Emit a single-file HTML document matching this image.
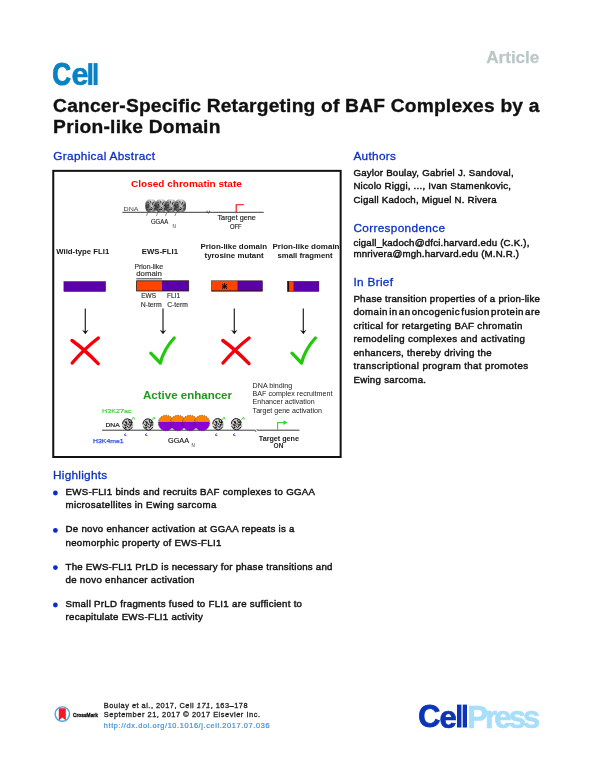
<!DOCTYPE html>
<html><head><meta charset="utf-8"><title>Cell Article</title>
<style>
html,body{margin:0;padding:0;background:#fff;width:600px;height:779px;overflow:hidden}
svg{display:block;will-change:transform}
text{font-family:"Liberation Sans",sans-serif}
.b{font-weight:bold}
.hd{font-size:11.8px;fill:#0b30c2;stroke:#0b30c2;stroke-width:0.3px}
.tx{font-size:9.7px;fill:#111;stroke:#111;stroke-width:0.42px}
.ft{font-size:7.4px;fill:#1e1e1e;stroke:#1e1e1e;stroke-width:0.3px}
</style></head>
<body>
<svg width="600" height="779" viewBox="0 0 600 779">
<!-- header -->
<text x="486.2" y="63.2" class="b" font-size="17.2" fill="#bac7c7" stroke="#bac7c7" stroke-width="0.25" textLength="53.2" lengthAdjust="spacing">Article</text>
<g fill="#0882c4">
<text transform="translate(52.3 85.1) scale(0.84 1)" class="b" font-size="31" stroke="#0882c4" stroke-width="1">C</text>
<text x="71.6" y="85.1" class="b" font-size="30.5" stroke="#0882c4" stroke-width="0.5">e</text>
<rect x="88.2" y="63.1" width="4.1" height="22"/><rect x="93.6" y="63.1" width="4" height="22"/>
</g>
<text x="53.1" y="112.3" class="b" font-size="19.2" fill="#111" stroke="#111" stroke-width="0.35" textLength="486.3" lengthAdjust="spacing">Cancer-Specific Retargeting of BAF Complexes by a</text>
<text x="53.1" y="132.6" class="b" font-size="19.2" fill="#111" stroke="#111" stroke-width="0.35" textLength="167.3" lengthAdjust="spacing">Prion-like Domain</text>

<!-- section headers -->
<text x="53.3" y="160" class="hd" textLength="101.7" lengthAdjust="spacing">Graphical Abstract</text>
<text x="353.4" y="160" class="hd" textLength="42.6" lengthAdjust="spacing">Authors</text>
<text x="353.4" y="231.7" class="hd" textLength="91.6" lengthAdjust="spacing">Correspondence</text>
<text x="353.4" y="285.6" class="hd" textLength="39.6" lengthAdjust="spacing">In Brief</text>
<text x="53" y="478.9" class="hd" textLength="54.2" lengthAdjust="spacing">Highlights</text>

<!-- authors -->
<text x="353.4" y="175.8" class="tx" textLength="160.2">Gaylor Boulay, Gabriel J. Sandoval,</text>
<text x="353.4" y="189.3" class="tx" textLength="157.6">Nicolo Riggi, ..., Ivan Stamenkovic,</text>
<text x="353.4" y="202.9" class="tx" textLength="143.2">Cigall Kadoch, Miguel N. Rivera</text>
<!-- correspondence -->
<text x="353.4" y="245.9" class="tx" textLength="176">cigall_kadoch@dfci.harvard.edu (C.K.),</text>
<text x="353.4" y="257.3" class="tx" textLength="165.6">mnrivera@mgh.harvard.edu (M.N.R.)</text>
<!-- in brief -->
<text x="353.4" y="301.5" class="tx" textLength="186.6">Phase transition properties of a prion-like</text>
<text x="353.4" y="315.0" class="tx" textLength="186.6" word-spacing="-1.9">domain in an oncogenic fusion protein are</text>
<text x="353.4" y="328.5" class="tx" textLength="169">critical for retargeting BAF chromatin</text>
<text x="353.4" y="342.0" class="tx" textLength="171.6">remodeling complexes and activating</text>
<text x="353.4" y="355.5" class="tx" textLength="138.2">enhancers, thereby driving the</text>
<text x="353.4" y="369.0" class="tx" textLength="174.6">transcriptional program that promotes</text>
<text x="353.4" y="382.5" class="tx" textLength="72.6">Ewing sarcoma.</text>

<!-- highlights -->
<g fill="#0c2cc4"><circle cx="55.4" cy="493" r="2.4"/><circle cx="55.4" cy="530.4" r="2.4"/><circle cx="55.4" cy="567.6" r="2.4"/><circle cx="55.4" cy="605" r="2.4"/></g>
<text x="65.5" y="495.0" class="tx" textLength="249.5">EWS-FLI1 binds and recruits BAF complexes to GGAA</text>
<text x="65.5" y="508.3" class="tx" textLength="150.8">microsatellites in Ewing sarcoma</text>
<text x="65.5" y="532.4" class="tx" textLength="229">De novo enhancer activation at GGAA repeats is a</text>
<text x="65.5" y="545.7" class="tx" textLength="155.8">neomorphic property of EWS-FLI1</text>
<text x="65.5" y="569.6" class="tx" textLength="267">The EWS-FLI1 PrLD is necessary for phase transitions and</text>
<text x="65.5" y="582.9" class="tx" textLength="129">de novo enhancer activation</text>
<text x="65.5" y="606.9" class="tx" textLength="236.5">Small PrLD fragments fused to FLI1 are sufficient to</text>
<text x="65.5" y="620.2" class="tx" textLength="137.3">recapitulate EWS-FLI1 activity</text>

<!-- footer -->
<text x="103.8" y="707.9" class="ft" textLength="143.7">Boulay et al., 2017, Cell <tspan font-style="italic">171</tspan>, 163–178</text>
<text x="103.8" y="716.9" class="ft" textLength="156.2">September 21, 2017 © 2017 Elsevier Inc.</text>
<text x="103.8" y="727.6" class="ft" style="fill:#3b92d8;stroke:#3b92d8;stroke-width:0.2px" textLength="165.7">http://dx.doi.org/10.1016/j.cell.2017.07.036</text>

<!-- CrossMark -->
<g>
<circle cx="62.3" cy="714.1" r="7.2" fill="#fff" stroke="#4aa6df" stroke-width="1.4"/>
<path d="M58.8 709.2 q0 -1 1 -1 h5 q1 0 1 1 V720.4 L62.3 717.6 L58.8 720.4 Z" fill="#ee1c25"/>
<text x="72.9" y="716.7" class="b" font-size="5.8" fill="#111" stroke="#111" stroke-width="0.35" textLength="25" lengthAdjust="spacingAndGlyphs">CrossMark</text>
</g>

<!-- CellPress -->
<g fill="#0b35b6" stroke="#0b35b6">
<text x="418.2" y="727.5" class="b" font-size="31.5" stroke-width="0.9" transform="translate(418.2 0) scale(0.97 1) translate(-418.2 0)">C</text>
<text x="439.6" y="727.5" class="b" font-size="31" stroke-width="0.7">e</text>
<rect x="457" y="704.6" width="4.4" height="22.9" stroke="none"/><rect x="462.7" y="704.6" width="4.3" height="22.9" stroke="none"/>
</g>
<text x="467.3" y="727.5" class="b" font-size="31" fill="#a8defa" stroke="#a8defa" stroke-width="0.7" textLength="73" lengthAdjust="spacing">Press</text>

<!-- FIGURE -->
<defs>
<linearGradient id="ng" x1="0" y1="0" x2="1" y2="0">
<stop offset="0" stop-color="#1e1e1e"/><stop offset="0.3" stop-color="#707070"/><stop offset="0.55" stop-color="#c8c8c8"/><stop offset="0.8" stop-color="#808080"/><stop offset="1" stop-color="#1e1e1e"/>
</linearGradient>
<linearGradient id="ng2" x1="0" y1="0" x2="0" y2="1">
<stop offset="0" stop-color="#fff" stop-opacity="0.5"/><stop offset="0.5" stop-color="#fff" stop-opacity="0"/><stop offset="1" stop-color="#000" stop-opacity="0.35"/>
</linearGradient>
<g id="nuc">
<rect x="-5.6" y="-6.3" width="11.2" height="12.6" rx="4.5" fill="url(#ng)"/>
<rect x="-5.6" y="-6.3" width="11.2" height="12.6" rx="4.5" fill="url(#ng2)"/>
<path d="M-3.5 -4 l1.5 1.5 M-0.5 -5 l0.5 2.5 M2.5 -4 l-1 2 M-4 1.5 l2.5 -0.5 M0 1 l1.5 2 M3 0.5 l1 -2 M-2 4 l2 -1" stroke="#1a1a1a" stroke-width="0.8" fill="none"/>
<circle cx="-2.5" cy="-1" r="0.7" fill="#111"/><circle cx="1.5" cy="-1.8" r="0.6" fill="#111"/><circle cx="0.3" cy="3.5" r="0.7" fill="#111"/><circle cx="3.6" cy="3" r="0.6" fill="#111"/>
</g>
<g id="nuc2">
<ellipse cx="0" cy="0" rx="5.8" ry="6" fill="#c8c8c8"/>
<path d="M-5.2 -0.5 q0.5 -5 5 -5.3 q4 0.2 5 4.3 M-4.8 2 q2 3.5 5 3.7 q3 -0.5 4.5 -3.2 M-3 -3.5 l2 2.2 l-1.4 3 M1 -4.5 l1 3 l2.2 -1 M-1 1 l2 2.2 l2.2 -2 M-3.8 -0.5 l1.5 2 M3.2 -3 l1 4" stroke="#1a1a1a" stroke-width="1" fill="none"/>
<circle cx="-1.5" cy="-2" r="1" fill="#111"/><circle cx="2.5" cy="0.5" r="0.9" fill="#111"/><circle cx="-2" cy="3" r="0.9" fill="#111"/><circle cx="0.5" cy="-0.3" r="0.7" fill="#111"/>
</g>
<marker id="ah" markerWidth="7" markerHeight="5" refX="3.2" refY="4" orient="0" markerUnits="userSpaceOnUse">
<path d="M0 0.5 L3.2 4 L6.4 0.5 L3.2 2.3 Z" fill="#111"/>
</marker>
</defs>

<!-- closed chromatin -->
<text x="131" y="186.9" class="b" font-size="9.8" fill="#f00" textLength="110.8" lengthAdjust="spacingAndGlyphs">Closed chromatin state</text>
<line x1="122.4" y1="212.3" x2="263.7" y2="212.3" stroke="#3c3c3c" stroke-width="1"/>
<text x="123.5" y="210.8" font-size="6" fill="#444" textLength="15" lengthAdjust="spacingAndGlyphs">DNA</text>
<g>
<use href="#nuc" x="151" y="205.9"/>
<use href="#nuc" x="161" y="205.9"/>
<use href="#nuc" x="170.8" y="205.9"/>
<use href="#nuc" x="180.3" y="205.9"/>
</g>
<path d="M147.5 213 l-1 3 M157.5 213 l-1 3 M166.5 213 l-1 3 M176 213 l-1 3" stroke="#666" stroke-width="0.7"/>
<text x="150.9" y="223.6" font-size="6.6" fill="#222" stroke="#222" stroke-width="0.12" textLength="17.4" lengthAdjust="spacingAndGlyphs">GGAA</text>
<text x="172.6" y="227.6" font-size="4.5" fill="#333">N</text>
<path d="M206.9 210.6 q0.2 2.6 1.4 2.6 q1.2 0 1.4 -2.6" stroke="#333" stroke-width="0.7" fill="none"/>
<path d="M236.2 212.3 V204.8 H243.8" stroke="#f00" stroke-width="1.1" fill="none"/>
<text x="217.5" y="220.1" font-size="6.8" fill="#222" stroke="#222" stroke-width="0.15" textLength="38.3" lengthAdjust="spacingAndGlyphs">Target gene</text>
<text x="230" y="228.5" font-size="6.8" fill="#222" stroke="#222" stroke-width="0.15" textLength="11.7" lengthAdjust="spacingAndGlyphs">OFF</text>

<!-- column labels -->
<g class="b" font-size="6.7" fill="#161616">
<text x="56.3" y="254.3" textLength="53" lengthAdjust="spacingAndGlyphs">Wild-type FLI1</text>
<text x="141.8" y="254.3" textLength="36.2" lengthAdjust="spacingAndGlyphs">EWS-FLI1</text>
<text x="200.5" y="248.8" textLength="66.5" lengthAdjust="spacingAndGlyphs">Prion-like domain</text>
<text x="204.5" y="258.3" textLength="59.2" lengthAdjust="spacingAndGlyphs">tyrosine mutant</text>
<text x="272.5" y="248.8" textLength="67" lengthAdjust="spacingAndGlyphs">Prion-like domain</text>
<text x="277.5" y="258.3" textLength="55" lengthAdjust="spacingAndGlyphs">small fragment</text>
</g>
<g font-size="6.4" fill="#333" stroke="#333" stroke-width="0.15">
<text x="134.5" y="268.8" textLength="28.5" lengthAdjust="spacingAndGlyphs">Prion-like</text>
<text x="136.3" y="276.3" textLength="25.5" lengthAdjust="spacingAndGlyphs">domain</text>
<text x="141.3" y="298.4" textLength="14.7" lengthAdjust="spacingAndGlyphs">EWS</text>
<text x="167" y="298.4" textLength="13" lengthAdjust="spacingAndGlyphs">FLI1</text>
<text x="140.7" y="306.7" textLength="20.9" lengthAdjust="spacingAndGlyphs">N-term</text>
<text x="167.3" y="306.7" textLength="20.4" lengthAdjust="spacingAndGlyphs">C-term</text>
</g>
<line x1="136.3" y1="278.8" x2="162" y2="278.8" stroke="#444" stroke-width="1"/>

<!-- bars -->
<rect x="63.9" y="281.6" width="41.7" height="9.9" fill="#5b00a9" stroke="#3d0072" stroke-width="0.5"/>
<rect x="136.6" y="280.8" width="25.4" height="10.2" fill="#ff4400"/>
<rect x="162" y="280.8" width="26.7" height="10.2" fill="#5b00a9"/>
<rect x="136.6" y="280.8" width="52.1" height="10.2" fill="none" stroke="#2a1a1a" stroke-width="0.8"/>
<rect x="211.4" y="280.8" width="25.8" height="10.3" fill="#ff4400"/>
<rect x="237.2" y="280.8" width="25.3" height="10.3" fill="#5b00a9"/>
<rect x="211.4" y="280.8" width="51.1" height="10.3" fill="none" stroke="#3a1a10" stroke-width="0.5"/>
<line x1="211.4" y1="290.9" x2="262.5" y2="290.9" stroke="#301010" stroke-width="0.8"/>
<g stroke="#1a0a0a" stroke-width="1" stroke-linecap="round">
<path d="M224.6 283.3 V288.3 M222.3 284.6 L226.9 287 M226.9 284.6 L222.3 287 M224.6 285.8 L222.6 288.6 M224.6 285.8 L226.6 288.6"/>
</g>
<rect x="287.6" y="281.4" width="31.3" height="10" fill="#5b00a9" stroke="#2a0050" stroke-width="0.5"/>
<rect x="289" y="281.4" width="4.5" height="10" fill="#ff4400"/>
<rect x="287.6" y="281.4" width="1.5" height="10" fill="#2a0a05"/>

<!-- arrows -->
<g stroke="#222" stroke-width="1.2"><line x1="85.3" y1="308.6" x2="85.3" y2="332"/><line x1="163" y1="308.6" x2="163" y2="332"/><line x1="234.3" y1="308.6" x2="234.3" y2="332"/><line x1="303.3" y1="308.6" x2="303.3" y2="332"/></g>
<g fill="#111"><path d="M82.0 329.8 L85.3 334.2 L88.6 329.8 L85.3 331.6 Z"/><path d="M159.7 329.8 L163 334.2 L166.3 329.8 L163 331.6 Z"/><path d="M231.0 329.8 L234.3 334.2 L237.6 329.8 L234.3 331.6 Z"/><path d="M300.0 329.8 L303.3 334.2 L306.6 329.8 L303.3 331.6 Z"/></g>

<!-- X marks -->
<g stroke="#f5000a" stroke-width="3.4" stroke-linecap="round" fill="none">
<path d="M72 340.5 Q84 349 98.2 363.6 M98.3 338 Q84 349 72.2 363"/>
<path d="M222.8 340.5 Q234.8 349 249 363.6 M249.1 338 Q234.8 349 223 363"/>
</g>
<!-- checks -->
<g stroke="#22c80c" stroke-width="3.3" stroke-linecap="round" stroke-linejoin="round" fill="none">
<path d="M150.8 353.2 L160.3 363 Q164 349 174.2 338"/>
<path d="M292 353.2 L301.5 363 Q305.2 349 315.4 338"/>
</g>

<!-- active enhancer -->
<text x="143" y="399" class="b" font-size="10.6" fill="#1f9a1f" textLength="89" lengthAdjust="spacingAndGlyphs">Active enhancer</text>
<g font-size="6.4" fill="#222">
<text x="252.6" y="387.5" textLength="39.6" lengthAdjust="spacingAndGlyphs">DNA binding</text>
<text x="252.6" y="395.6" textLength="79.8" lengthAdjust="spacingAndGlyphs">BAF complex recruitment</text>
<text x="252.6" y="404.2" textLength="62" lengthAdjust="spacingAndGlyphs">Enhancer activation</text>
<text x="252.6" y="412.9" textLength="69.4" lengthAdjust="spacingAndGlyphs">Target gene activation</text>
</g>
<text x="102.1" y="413.4" font-size="5.9" fill="#2ec82e" stroke="#2ec82e" stroke-width="0.1" textLength="29.5" lengthAdjust="spacingAndGlyphs">H3K27ac</text>
<text x="93" y="443.2" font-size="5.9" fill="#3458e0" stroke="#3458e0" stroke-width="0.25" textLength="30.6" lengthAdjust="spacingAndGlyphs">H3K4me1</text>
<text x="105.4" y="427.4" font-size="6" fill="#222" stroke="#222" stroke-width="0.2" textLength="14.3" lengthAdjust="spacingAndGlyphs">DNA</text>
<path d="M102.1 430.2 H255 q0.8 0 0.9 1.6 M257.6 430.2 q-0.8 0 -0.8 -0.8 M257.6 430.2 H299.5" stroke="#3c3c3c" stroke-width="1" fill="none"/>

<g>
<use href="#nuc2" x="127.7" y="424.6"/>
<use href="#nuc2" x="148.2" y="424.6"/>
<use href="#nuc2" x="218" y="424.3"/>
<use href="#nuc2" x="236.5" y="424.3"/>
</g>
<g stroke="#2bd12b" stroke-width="0.8" fill="none">
<path d="M131.5 420 l2 -3 l1 2.5 M152 420 l2 -3 l1 2.5 M222 420 l2 -3 l1 2.5 M241.5 420 l2 -3 l1 2.5"/>
</g>
<g stroke="#3355ee" stroke-width="0.9" fill="none">
<path d="M126 433.5 l-2 1.5 l2.5 0.8 M147 433.5 l-2 1.5 l2.5 0.8 M217 433.5 l-2 1.5 l2.5 0.8 M235 433.5 l-2 1.5 l2.5 0.8"/>
</g>
<path d="M158.34 421.8 A7.75 7.75 0 0 1 173.66 421.8 Z" fill="#ff8200"/><path d="M158.34 421.8 A7.75 7.75 0 1 0 173.66 421.8 Z" fill="#8c00d4"/><circle cx="166" cy="423" r="7.75" fill="none" stroke="#222" stroke-width="0.6" stroke-dasharray="1.2 1.2"/>
<path d="M170.34 421.8 A7.75 7.75 0 0 1 185.66 421.8 Z" fill="#ff8200"/><path d="M170.34 421.8 A7.75 7.75 0 1 0 185.66 421.8 Z" fill="#8c00d4"/><circle cx="178" cy="423" r="7.75" fill="none" stroke="#222" stroke-width="0.6" stroke-dasharray="1.2 1.2"/>
<path d="M182.34 421.8 A7.75 7.75 0 0 1 197.66 421.8 Z" fill="#ff8200"/><path d="M182.34 421.8 A7.75 7.75 0 1 0 197.66 421.8 Z" fill="#8c00d4"/><circle cx="190" cy="423" r="7.75" fill="none" stroke="#222" stroke-width="0.6" stroke-dasharray="1.2 1.2"/>
<path d="M194.34 421.8 A7.75 7.75 0 0 1 209.66 421.8 Z" fill="#ff8200"/><path d="M194.34 421.8 A7.75 7.75 0 1 0 209.66 421.8 Z" fill="#8c00d4"/><circle cx="202" cy="423" r="7.75" fill="none" stroke="#222" stroke-width="0.6" stroke-dasharray="1.2 1.2"/>
<text x="168" y="443.2" font-size="6.6" fill="#1a1a1a" stroke="#1a1a1a" stroke-width="0.15" textLength="21" lengthAdjust="spacingAndGlyphs">GGAA</text>
<text x="191.5" y="447" font-size="4.5" fill="#333">N</text>
<path d="M277.6 430.2 V422.6 H284" stroke="#3ad43a" stroke-width="1.1" fill="none"/>
<path d="M283.5 420.3 L287.6 422.6 L283.5 424.9 Z" fill="#3ad43a"/>
<text x="258.8" y="440.5" class="b" font-size="7.2" fill="#222" textLength="40.2" lengthAdjust="spacingAndGlyphs">Target gene</text>
<text x="273.6" y="448.1" class="b" font-size="7.2" fill="#222" textLength="9.8" lengthAdjust="spacingAndGlyphs">ON</text>

<!-- Graphical abstract box -->
<rect x="53.25" y="170.85" width="287.4" height="286.15" fill="none" stroke="#111" stroke-width="2"/>

</svg>
</body></html>
